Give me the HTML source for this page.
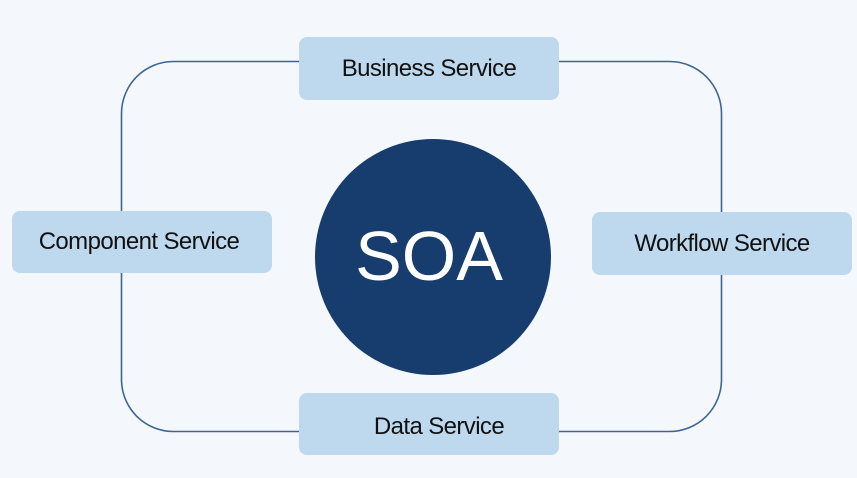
<!DOCTYPE html>
<html><head><style>
html,body{margin:0;padding:0}
body{width:857px;height:478px;background:#f4f7fb;position:relative;overflow:hidden;font-family:"Liberation Sans",sans-serif}
.b{position:absolute;background:#bed8ee;border-radius:8px;display:flex;align-items:center;justify-content:center;font-size:24px;color:#111;letter-spacing:-0.6px}
</style></head><body>
<svg width="857" height="478" style="position:absolute;left:0;top:0">
<rect x="121.5" y="61.5" width="600" height="370" rx="52" ry="52" fill="none" stroke="#3d6593" stroke-width="1.6"/>
<circle cx="433" cy="257" r="118" fill="#173d6e"/>
<text x="429" y="280" text-anchor="middle" font-family="Liberation Sans,sans-serif" font-size="70" fill="#fff">SOA</text>
</svg>
<div class="b" style="left:299px;top:37px;width:260px;height:63px">Business Service</div>
<div class="b" style="left:12px;top:211px;width:260px;height:62px;padding-right:6px;box-sizing:border-box">Component Service</div>
<div class="b" style="left:592px;top:212px;width:260px;height:63px">Workflow Service</div>
<div class="b" style="left:299px;top:393px;width:260px;height:62px;padding-left:20px;padding-top:6px;box-sizing:border-box">Data Service</div>
</body></html>
